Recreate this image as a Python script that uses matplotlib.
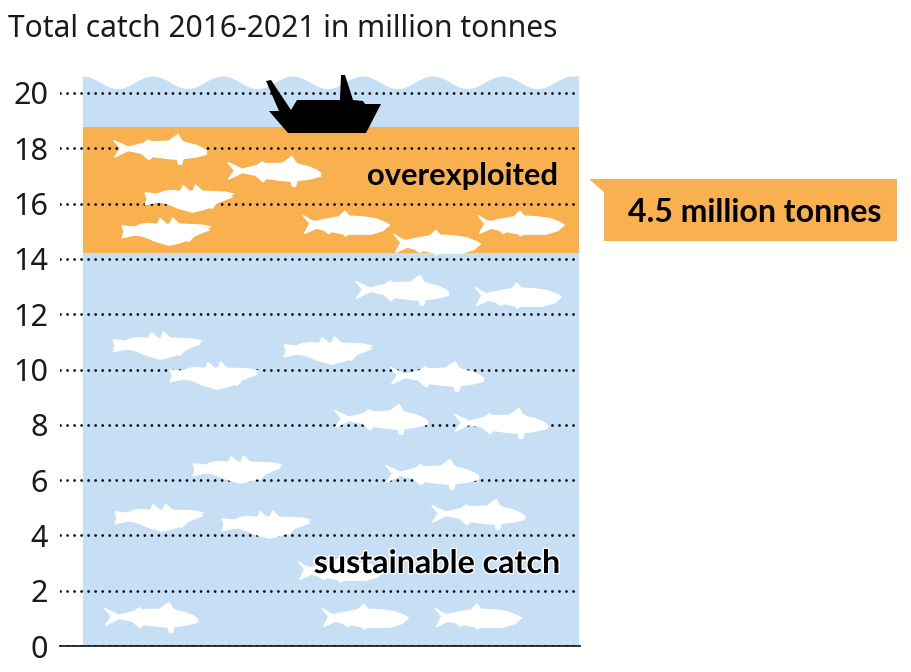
import matplotlib
matplotlib.use('Agg')
import matplotlib.pyplot as plt
import numpy as np
from matplotlib.path import Path
from matplotlib.patches import PathPatch, Polygon
from matplotlib.transforms import Affine2D
import matplotlib.patheffects as pe

plt.rcParams['font.family'] = ['Noto Sans', 'DejaVu Sans']

# values
sustainable = 14.2
overexploited = 4.6
y_ticks = [0, 2, 4, 6, 8, 10, 12, 14, 16, 18, 20]

# fish positions, one list per silhouette
fish_a_x = [160, 274, 402, 437, 381, 501, 432, 478, 151]
fish_a_y = [18.0, 17.2, 12.9, 9.8, 8.25, 8.1, 6.25, 4.8, 1.1]
fish_b_x = [189, 166, 157, 214, 328, 237, 159, 266]
fish_b_y = [16.2, 15.0, 10.9, 9.8, 10.7, 6.4, 4.65, 4.4]
fish_c_x = [346, 437, 521, 518, 341, 365, 478]
fish_c_y = [15.3, 14.6, 15.3, 12.7, 2.8, 1.1, 1.1]

BLUE = '#c6dff5'
ORANGE = '#f9b04e'

# silhouettes at 3x, nose pointing right
fish_a = np.array([(292, 72), (280, 62), (258, 52), (225, 44), (215, 38), (205, 20), (190, 30),
                   (178, 40), (125, 42), (115, 36), (100, 47), (55, 58), (12, 38), (32, 62),
                   (14, 88), (55, 68), (95, 76), (108, 88), (118, 96), (128, 86), (175, 92),
                   (203, 94), (205, 108), (215, 110), (220, 92), (255, 88), (280, 82),
                   (292, 78)], float)
fish_b = np.array([(280, 44), (255, 38), (215, 36), (185, 35), (165, 16), (158, 34), (148, 36),
                   (128, 18), (120, 36), (90, 33), (70, 36), (50, 44), (14, 40), (20, 58),
                   (14, 76), (48, 68), (65, 68), (90, 76), (110, 85), (155, 98), (190, 90),
                   (205, 84), (215, 86), (230, 70), (275, 52), (270, 48)], float)
fish_c = np.array([(282, 58), (270, 50), (240, 38), (200, 32), (160, 30), (147, 15), (130, 32),
                   (85, 40), (60, 46), (48, 44), (22, 28), (42, 52), (26, 82), (62, 66),
                   (85, 72), (98, 82), (108, 76), (145, 84), (148, 90), (158, 84), (225, 84),
                   (265, 72)], float)

ship = [(269, 111), (279, 111), (266, 81), (271, 80), (291, 110), (297, 100), (340, 100),
        (341, 75), (345, 75), (353, 100), (363, 101), (365, 104), (381, 104), (366, 133),
        (288, 133)]
callout = [(589, 179), (897, 179), (897, 241), (604, 241), (604, 192)]


def fish_marker(outline, center):
    pts = (outline - center) * [1, -1]
    size = 2 * np.abs(pts).max() / 3 * 0.72
    return Path(pts, closed=False), size


fig = plt.figure(figsize=(9.12, 6.72), dpi=100)
ax = fig.add_axes([60 / 912, 26 / 672, 520 / 912, 576 / 672])
ax.set_xlim(60, 580)
ax.set_ylim(0, 576 / 27.65)

ax.bar(331, sustainable, width=496, color=BLUE, zorder=1)
ax.bar(331, overexploited, bottom=sustainable, width=496, color=ORANGE, zorder=1)

# everything decorative below is placed in image pixels, y down
to_px = Affine2D().scale(1, -1).translate(0, 672)

# wavy water surface above the bars
verts = [(83, 127), (83, 76.5)]
codes = [Path.MOVETO, Path.LINETO]
crest = 83
for i in range(7):
    verts += [(crest + 14, 76.5), (crest + 21, 89), (crest + 35, 89),
              (crest + 49, 89), (crest + 56, 76.5), (crest + 70, 76.5)]
    codes += [Path.CURVE4] * 6
    crest += 70
verts += [(579, 76.5), (579, 127), (83, 127)]
codes += [Path.LINETO, Path.LINETO, Path.CLOSEPOLY]
ax.add_patch(PathPatch(Path(verts, codes), fc=BLUE, ec='none', transform=to_px, zorder=1))

ax.set_yticks(y_ticks)
ax.set_xticks([])
ax.grid(axis='y', color='black', linewidth=2.0, linestyle=(0, (0.01, 2.52)), zorder=2)
ax.set_axisbelow(False)
for line in ax.get_ygridlines():
    line.set_dash_capstyle('round')
    line.set_zorder(2)
ax.tick_params(axis='y', length=0, pad=8.5, labelsize=22, labelcolor='#1a1a1a')
for side in ['top', 'right', 'left']:
    ax.spines[side].set_visible(False)
ax.spines['bottom'].set_color('#222222')
ax.spines['bottom'].set_linewidth(1.3)

for outline, center, xs, ys in [(fish_a, (152, 62), fish_a_x, fish_a_y),
                                (fish_b, (147, 57), fish_b_x, fish_b_y),
                                (fish_c, (152, 52), fish_c_x, fish_c_y)]:
    marker, size = fish_marker(outline, center)
    ax.plot(xs, ys, linestyle='none', marker=marker, markersize=size, color='white',
            markeredgecolor='white', markeredgewidth=1.0, zorder=3)

ax.add_patch(Polygon(ship, closed=True, fc='black', ec='none', transform=to_px, zorder=4,
                     clip_on=False))
ax.add_patch(Polygon(callout, closed=True, fc=ORANGE, ec='none', transform=to_px, zorder=4,
                     clip_on=False))

ax.text(558, 185, 'overexploited', ha='right', va='baseline', fontsize=22.2, family='Lato',
        fontweight='bold', color='black', zorder=5, transform=to_px)
ax.text(560, 573, 'sustainable catch', ha='right', va='baseline', fontsize=23.2, family='Lato',
        fontweight='bold', color='black', zorder=5, transform=to_px,
        path_effects=[pe.withStroke(linewidth=2, foreground='white')])
ax.text(755, 222, '4.5 million tonnes', ha='center', va='baseline', fontsize=23, family='Lato',
        fontweight='bold', color='black', zorder=5, transform=to_px, clip_on=False)

fig.text(8 / 912, 1 - 37 / 672, 'Total catch 2016-2021 in million tonnes', ha='left',
         va='baseline', fontsize=21.6, color='#1a1a1a')

fig.savefig('out.png', dpi=100)
